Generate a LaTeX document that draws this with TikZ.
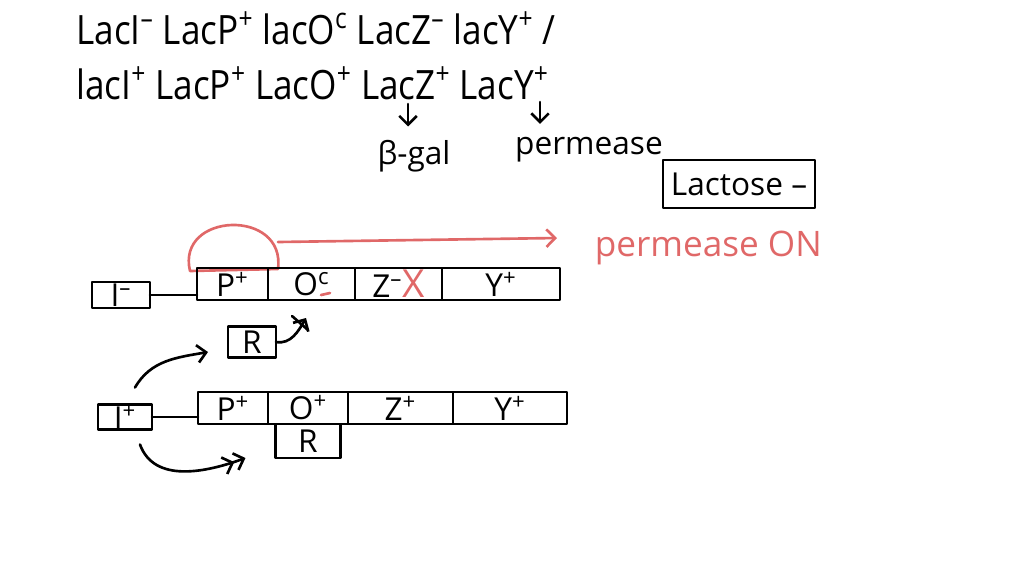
\documentclass[tikz,border=0pt]{standalone}
\usepackage{fontspec}
\usepackage{graphicx}
\setmainfont{Open Sans}
\usetikzlibrary{positioning,arrows.meta}
\definecolor{penred}{RGB}{224,104,104}
\newcommand{\tallgeno}[1]{\scalebox{1}[1.15]{#1}}
\begin{document}
\begin{tikzpicture}[x=0.02cm,y=-0.02cm,line width=1.5pt,line cap=round,line join=round,
	gene/.style={draw,minimum height=0.64cm,inner sep=0pt,outer sep=0pt,font=\fontsize{18}{18}\selectfont},
	tag/.style={draw,inner sep=0pt,outer sep=0pt,font=\fontsize{18}{18}\selectfont},
	note/.style={inner sep=2pt,font=\fontsize{18}{20}\selectfont},
	geno/.style={anchor=base west,inner sep=0pt,font=\fontsize{20}{24}\selectfont},
	arr/.style={-{Straight Barb[length=5pt,width=10pt]}},
	arrtwo/.style={-{Straight Barb[length=5pt,width=10pt]Straight Barb[length=5pt,width=10pt]}}]
				\useasboundingbox (0,0) rectangle (1024,576);
				% genotypes
				\node[geno] (geno1) at (75,44){\tallgeno{LacI\textsuperscript{–} LacP\textsuperscript{+} lacO\textsuperscript{c} LacZ\textsuperscript{–} lacY\textsuperscript{+} /}};
				\node[geno] (geno2) at (75,99){\tallgeno{lacI\textsuperscript{+} LacP\textsuperscript{+} LacO\textsuperscript{+} LacZ\textsuperscript{+} LacY\textsuperscript{+}}};
				\coordinate (zc) at (408,104);
				\coordinate (yc) at (540,102);
				\node[note] (betagal) at (414,156){β-gal};
				\node[note] (perm) at (589,150){permease};
				\draw[arr,shorten >=5pt](zc)--(zc |- betagal.north);
				\draw[arr,shorten >=5pt](yc)--(yc |- perm.north);
				\node[tag,minimum width=3.04cm,minimum height=0.96cm] (lactose) at (739,184){Lactose –};
				% first operon
				\draw[penred](190,271) .. controls (176,212) and (286,208) .. (278,269)--cycle;
				\coordinate (pol) at (278,242);
				\coordinate (tx) at (557,238);
				\draw[penred,arr](pol)--(tx);
				\node[note,text=penred,anchor=west,font=\fontsize{20}{22}\selectfont] (on) at (590,248){permease ON};
				\node[tag,minimum width=1.16cm,minimum height=0.52cm] (iminus) at (121,295){I\textsuperscript{–}};
				\node[gene,minimum width=1.42cm,anchor=west] (p1) at (197,284){P\textsuperscript{+}};
				\node[gene,minimum width=1.74cm,right=0pt of p1] (o1){O\textsuperscript{c}};
				\node[gene,minimum width=1.74cm,right=0pt of o1] (z1){Z\textsuperscript{–}\textcolor{penred}{\fontsize{22}{22}\selectfont X}};
				\node[gene,minimum width=2.36cm,right=0pt of z1] (y1){Y\textsuperscript{+}\hspace{0.8em}};
				\draw[penred](321,295)--(330,293);
				\draw(iminus.east)--(iminus.east -| p1.west);
				\node[tag,minimum width=0.96cm,minimum height=0.62cm] (r1) at (252,342){R};
				\coordinate (blk) at (306,318);
				\draw[arr](r1.east) to[out=-10,in=240] (blk);
				\draw(blk) ++(-14,-2)--++(16,14);
				% second operon
				\node[tag,minimum width=1.08cm,minimum height=0.5cm] (iplus) at (125,417){I\textsuperscript{+}};
				\node[gene,minimum width=1.4cm,anchor=west] (p2) at (198,408){P\textsuperscript{+}};
				\node[gene,minimum width=1.6cm,right=0pt of p2] (o2){O\textsuperscript{+}};
				\node[gene,minimum width=2.1cm,right=0pt of o2] (z2){Z\textsuperscript{+}};
				\node[gene,minimum width=2.28cm,right=0pt of z2] (y2){Y\textsuperscript{+}};
				\node[tag,minimum width=1.3cm,minimum height=0.68cm,below=0pt of o2] (r2){R};
				\draw(iplus.east)--(iplus.east -| p2.west);
				\draw[arr]([xshift=0.2cm,yshift=0.34cm]iplus.north) to[out=60,in=190] ([xshift=-0.4cm,yshift=-0.2cm]r1.west);
				\draw[arrtwo]([xshift=0.3cm,yshift=-0.3cm]iplus.south) to[out=-70,in=200] ([xshift=-0.6cm]r2.south west);
\end{tikzpicture}
\end{document}
